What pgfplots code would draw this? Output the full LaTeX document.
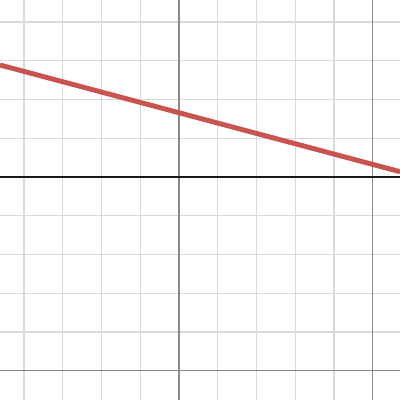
\documentclass[border=0pt]{standalone}
\usepackage{pgfplots}
\pgfplotsset{compat=1.18}
\definecolor{minorgrid}{HTML}{D9D9D9}
\definecolor{majorgrid}{HTML}{8A8A8A}
\definecolor{lineRed}{HTML}{C9534F}
\begin{document}
\begin{tikzpicture}
  \begin{axis}[
      name=ax,
      scale only axis,
      width=300pt, height=300pt,
      xmin=-4.620, xmax=5.705,
      ymin=-5.756, ymax=4.569,
      axis line style={draw=none},
      xtick={-4,...,5}, ytick={-5,...,4},
      xticklabel=\empty, yticklabel=\empty,
      major tick length=0pt,
      grid=major,
      major grid style={minorgrid, line width=0.9pt},
      extra x ticks={0,5},
      extra y ticks={-5},
      extra tick style={major grid style={majorgrid, line width=0.9pt}},
      extra x tick labels={}, extra y tick labels={},
    ]
    \draw[black!90, line width=2.2pt] (axis cs:-5,0) -- (axis cs:6,0);
    \addplot[lineRed, line width=3.7pt] coordinates {
      (-4.620, 2.891)
      (5.705, 0.137)
    };
  \end{axis}
  \pgfresetboundingbox
  \path (ax.south west) rectangle (ax.north east);
\end{tikzpicture}
\end{document}
